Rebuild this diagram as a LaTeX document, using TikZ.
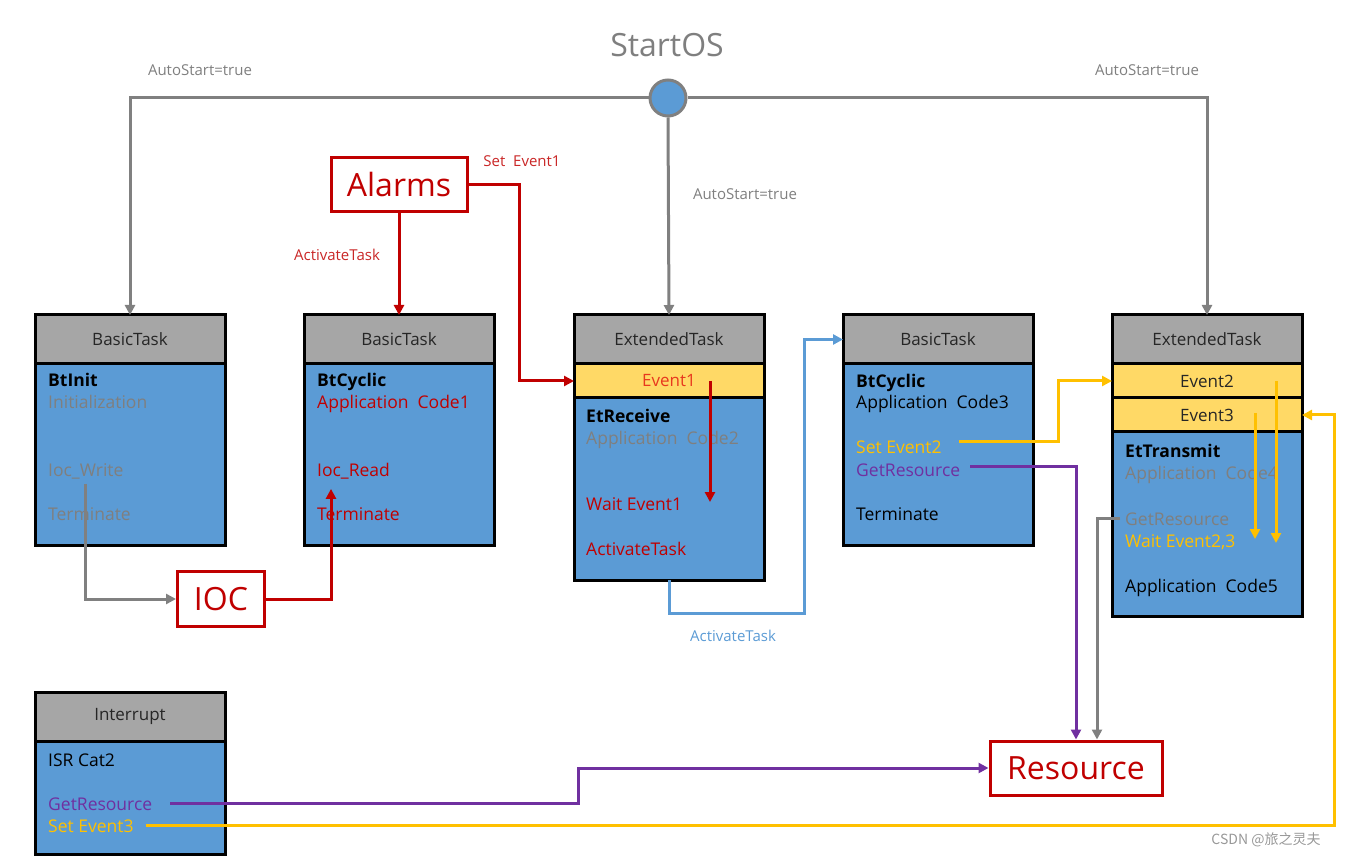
\documentclass[tikz,border=0pt]{standalone}
\usepackage{fontspec}
\setmainfont{Open Sans}
\newfontfamily\cjkfont{Noto Sans CJK SC}
\usepackage{tikz}
\usetikzlibrary{arrows.meta, positioning}
\definecolor{taskblue}{HTML}{5B9BD5}
\definecolor{hdrgray}{HTML}{A6A6A6}
\definecolor{hdrtxt}{HTML}{262626}
\definecolor{evtyellow}{HTML}{FFD966}
\definecolor{linegray}{HTML}{808080}
\definecolor{txtgray}{HTML}{7F7F7F}
\definecolor{alarmred}{HTML}{C00000}
\definecolor{evred}{HTML}{E8381E}
\definecolor{connyellow}{HTML}{FFC000}
\definecolor{connpurple}{HTML}{7030A0}

\begin{document}
\begin{tikzpicture}[x=1pt, y=-1pt,
  hdr/.style={draw=black, line width=3pt, fill=hdrgray, anchor=north west, inner sep=0pt, outer sep=0pt,
              minimum width=190pt, minimum height=49pt, text=hdrtxt, font=\fontsize{17}{20}\selectfont},
  bodybox/.style={draw=black, line width=3pt, fill=taskblue, anchor=north west, inner sep=0pt, outer sep=0pt,
              minimum width=190pt},
  evt/.style={draw=black, line width=3pt, fill=evtyellow, anchor=north west, inner sep=0pt, outer sep=0pt,
              minimum width=190pt, minimum height=34pt, font=\fontsize{17}{20}\selectfont},
  item/.style={anchor=base west, inner sep=0pt, font=\fontsize{17.5}{20}\selectfont},
  ttl/.style={item, font=\fontsize{17.5}{20}\selectfont\bfseries},
  lbl/.style={inner sep=0pt, font=\fontsize{15}{18}\selectfont},
  bigbox/.style={draw=alarmred, line width=3pt, fill=white, text=alarmred, inner sep=0pt,
              font=\fontsize{32}{36}\selectfont},
  conn/.style={line width=3pt, -{Triangle[length=10pt,width=10pt]}}]
\useasboundingbox (0,0) rectangle (1350,858);
%%── StartOS ──────────────────────────────────────────────
\node[font=\fontsize{32}{36}\selectfont, text=txtgray] (ostxt) at (667,45) {StartOS};
\node[circle, draw=linegray, line width=3pt, fill=taskblue, minimum size=36pt, inner sep=0pt] (os) at (668,98) {};
%%── Task boxes ───────────────────────────────────────────
%% BasicTask BtInit
\node[hdr] (t1h) at (35,315) {BasicTask};
\node[bodybox, minimum height=181pt] (t1b) at (t1h.south west) {};
\node[ttl] (init) at (48,387) {BtInit};
\node[item, text=txtgray] (initapp) at (48,409) {Initialization};
\node[item, text=txtgray] (iocw) at (48,477) {Ioc\_Write};
\node[item, text=txtgray] (term1) at (48,520) {Terminate};
%% BasicTask BtCyclic (Code1)
\node[hdr] (t2h) at (304,315) {BasicTask};
\node[bodybox, minimum height=181pt] (t2b) at (t2h.south west) {};
\node[ttl] (cyc2) at (317,387) {BtCyclic};
\node[item, text=alarmred] (app1) at (317,409) {Application~~Code1};
\node[item, text=alarmred] (iocr) at (317,477) {Ioc\_Read};
\node[item, text=alarmred] (term2) at (317,520) {Terminate};
%% ExtendedTask EtReceive
\node[hdr] (t3h) at (574,315) {ExtendedTask};
\node[evt, text=evred] (ev1) at (t3h.south west) {Event1};
\node[bodybox, minimum height=182pt] (t3b) at (ev1.south west) {};
\node[ttl] (etr) at (586,423) {EtReceive};
\node[item, text=txtgray] (app2) at (586,445) {Application~~Code2};
\node[item, text=alarmred] (wait1) at (586,511) {Wait Event1};
\node[item, text=alarmred] (act3) at (586,555) {ActivateTask};
%% BasicTask BtCyclic (Code3)
\node[hdr] (t4h) at (843,315) {BasicTask};
\node[bodybox, minimum height=181pt] (t4b) at (t4h.south west) {};
\node[ttl] (cyc4) at (856,388) {BtCyclic};
\node[item] (app3) at (856,409) {Application~~Code3};
\node[item, text=connyellow] (set2) at (856,454) {Set Event2};
\node[item, text=connpurple] (getres4) at (856,476) {GetResource};
\node[item] (term4) at (856,520) {Terminate};
%% ExtendedTask EtTransmit
\node[hdr] (t5h) at (1112,315) {ExtendedTask};
\node[evt, text=hdrtxt] (ev2) at (t5h.south west) {Event2};
\node[evt, text=hdrtxt] (ev3) at (ev2.south west) {Event3};
\node[bodybox, minimum height=184pt] (t5b) at (ev3.south west) {};
\node[ttl] (ett) at (1125,458) {EtTransmit};
\node[item, text=txtgray] (app4) at (1125,480) {Application~~Code4};
\node[item, text=txtgray] (getres5) at (1125,525) {GetResource};
\node[item, text=connyellow] (wait23) at (1125,547) {Wait Event2,3};
\node[item] (app5) at (1125,592) {Application~~Code5};
%% Interrupt ISR Cat2
\node[hdr] (tih) at (35,692) {Interrupt};
\node[bodybox, minimum height=113pt] (tib) at (tih.south west) {};
\node[item] (isr) at (48,766) {ISR Cat2};
\node[item, text=connpurple] (getresi) at (48,810) {GetResource};
\node[item, text=connyellow] (set3) at (48,832) {Set Event3};
%%── Alarms / IOC / Resource ──────────────────────────────
\node[bigbox, minimum width=136pt, minimum height=54pt] (alarms) at (399,185) {Alarms};
\node[bigbox, minimum width=87pt, minimum height=55pt] (ioc) at (221,599) {IOC};
\node[bigbox, minimum width=172pt, minimum height=54pt] (res) at (1076,768) {Resource};
%%── AutoStart connectors ─────────────────────────────────
\draw[conn, linegray] (os.west) -| (t1h.north);
\draw[conn, linegray] (os.east) -| (t5h.north);
\draw[conn, linegray] (os.south) -- (t3h.north);
\node[lbl, text=txtgray] at (200,70) {AutoStart=true};
\node[lbl, text=txtgray] at (1147,70) {AutoStart=true};
\node[lbl, text=txtgray] at (745,194) {AutoStart=true};
%%── Alarm connectors ─────────────────────────────────────
\draw[conn, alarmred] (alarms.south) -- (t2h.north);
\node[lbl, text=alarmred!85!white] at (337,255) {ActivateTask};
\draw[conn, alarmred] (alarms.east) -- ++(51,0) |- (ev1.west);
\node[lbl, text=alarmred!85!white] at (522,161) {Set~~Event1};
\draw[conn, alarmred] ([xshift=41pt]ev1.center) -- ++(0,121);
%%── IOC connectors ───────────────────────────────────────
\draw[conn, linegray] ([yshift=-4pt]iocw.south) |- (ioc.west);
\draw[conn, alarmred] (ioc.east) -| ([xshift=14pt,yshift=-9pt]iocr.south west);
%%── ActivateTask (blue) ──────────────────────────────────
\draw[conn, taskblue] (t3b.south) -- ++(0,33) -- ++(135,0) |- (t4h.west);
\node[lbl, text=taskblue] at (733,636) {ActivateTask};
%%── Events ───────────────────────────────────────────────
\draw[conn, connyellow] ([xshift=17pt,yshift=6pt]set2.east) -- ++(100,0) |- (ev2.west);
\draw[conn, connyellow] ([xshift=69pt]ev2.center) -- ++(0,162);
\draw[conn, connyellow] ([xshift=48pt,yshift=2pt]ev3.center) -- ++(0,126);
\draw[conn, connyellow] ([xshift=12pt]set3.east) -| ([xshift=32pt]ev3.east) -- (ev3.east);
%%── Resource ─────────────────────────────────────────────
\draw[conn, connpurple] ([xshift=10pt,yshift=3pt]getres4.east) -| (res.north);
\draw[conn, linegray] ([xshift=-5pt]getres5.west) -| ([xshift=21pt]res.north);
\draw[conn, connpurple] ([xshift=18pt]getresi.east) -- ++(408,0) |- (res.west);
%%── Watermark ────────────────────────────────────────────
\node[lbl, text=txtgray!80!white, font=\fontsize{14}{16}\selectfont\cjkfont] at (1266,840) {CSDN @旅之灵夫};
\end{tikzpicture}
\end{document}
